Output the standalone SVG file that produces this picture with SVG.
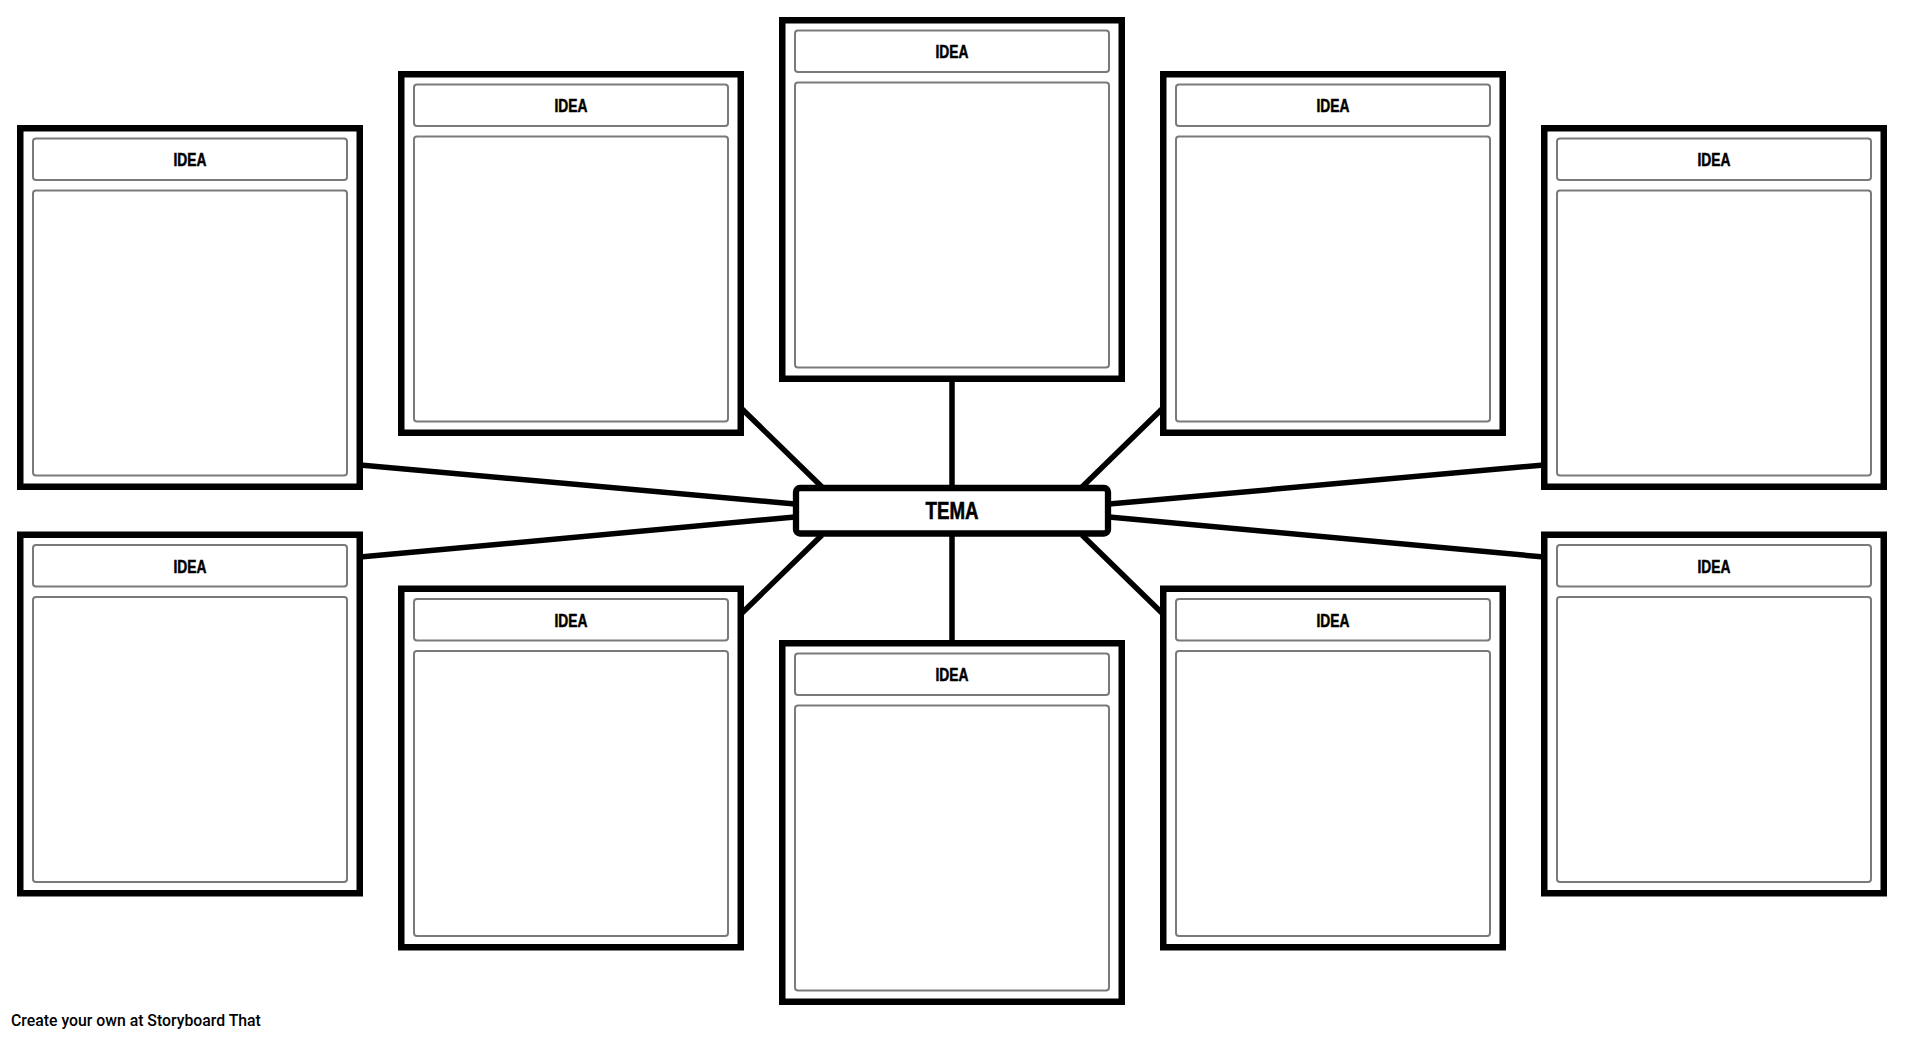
<svg xmlns="http://www.w3.org/2000/svg" width="1905" height="1040" viewBox="0 0 1905 1040">
<style>
.outer{fill:#fff;stroke:#000;stroke-width:6.5}
.head,.body{fill:#fff;stroke:#7a7a7a;stroke-width:2}
.lbl{font-family:"Liberation Sans",Arial,sans-serif;font-weight:bold;font-size:18.5px;text-anchor:middle;fill:#000;stroke:#000;stroke-width:0.5}
.conn line{stroke:#000;stroke-width:5.5;stroke-linecap:butt}
.tema{fill:#fff;stroke:#000;stroke-width:6.3}
.tlbl{font-family:"Liberation Sans",Arial,sans-serif;font-weight:bold;font-size:24px;text-anchor:middle;fill:#000;stroke:#000;stroke-width:0.6}
.foot{font-family:Roboto,"Liberation Sans",sans-serif;font-size:15.8px;font-weight:500;fill:#000}
</style>
<defs>
<g id="box">
<rect class="outer" x="3.25" y="3.25" width="339.5" height="358.5"/>
<rect class="head" x="16" y="13.5" width="314" height="41.5" rx="3"/>
<rect class="body" x="16" y="65.5" width="314" height="285" rx="3"/>
<text class="lbl" x="173" y="41" textLength="33" lengthAdjust="spacingAndGlyphs">IDEA</text>
</g>
</defs>
<rect width="1905" height="1040" fill="#fff"/>
<g id="connectors" class="conn">
<line x1="952" y1="380" x2="952" y2="487"/>
<line x1="952" y1="535" x2="952" y2="642"/>
<line x1="741" y1="408" x2="822" y2="487"/>
<line x1="1163" y1="408" x2="1082" y2="487"/>
<line x1="741" y1="614" x2="822" y2="535"/>
<line x1="1163" y1="614" x2="1082" y2="535"/>
<line x1="360" y1="465" x2="795" y2="504"/>
<line x1="360" y1="557" x2="795" y2="517"/>
<line x1="1544" y1="465" x2="1109" y2="504"/>
<line x1="1544" y1="557" x2="1109" y2="517"/>
</g>
<g id="idea1" transform="translate(17,125)"><use href="#box"/></g>
<g id="idea2" transform="translate(398,71)"><use href="#box"/></g>
<g id="idea3" transform="translate(779,17)"><use href="#box"/></g>
<g id="idea4" transform="translate(1160,71)"><use href="#box"/></g>
<g id="idea5" transform="translate(1541,125)"><use href="#box"/></g>
<g id="idea6" transform="translate(17,531.5)"><use href="#box"/></g>
<g id="idea7" transform="translate(398,585.5)"><use href="#box"/></g>
<g id="idea8" transform="translate(779,640)"><use href="#box"/></g>
<g id="idea9" transform="translate(1160,585.5)"><use href="#box"/></g>
<g id="idea10" transform="translate(1541,531.5)"><use href="#box"/></g>
<g id="tema">
<rect class="tema" x="796" y="488" width="312" height="45.5" rx="4"/>
<text class="tlbl" x="952" y="519" textLength="53" lengthAdjust="spacingAndGlyphs">TEMA</text>
</g>
<text class="foot" x="11" y="1026">Create your own at Storyboard That</text>
</svg>
